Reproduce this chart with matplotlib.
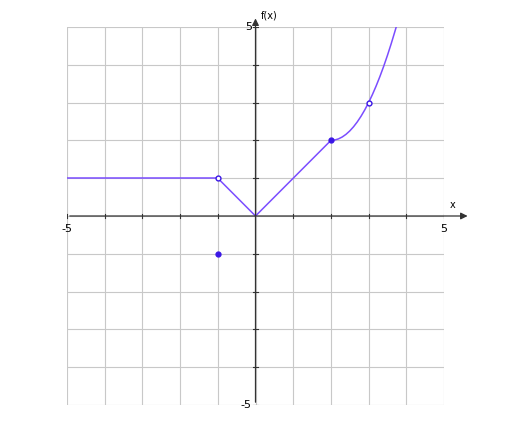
import numpy as np
import matplotlib.pyplot as plt

# piecewise function, points
flat_x = [-5, -1]
flat_y = [1, 1]
v_x = [-1, 0, 2]
v_y = [1, 0, 2]
curve_x = [2, 2.1, 2.2, 2.3, 2.4, 2.5, 2.6, 2.7, 2.8, 2.9, 3, 3.1, 3.2, 3.3, 3.4, 3.5, 3.6, 3.7, 3.75]
curve_y = [2, 2.01, 2.04, 2.09, 2.16, 2.25, 2.36, 2.49, 2.64, 2.81, 3, 3.21, 3.44, 3.69, 3.96,
           4.25, 4.56, 4.89, 5.06]
open_pts = [(-1, 1), (3, 3)]
filled_pts = [(-1, -1), (2, 2)]

line_c = '#7b4dff'
dot_c = '#3a16e6'

fig = plt.figure(figsize=(5.19, 4.21), dpi=100)
ax = fig.add_axes([67/519, 16/421, 377/519, 378/421])
ax.set_xlim(-5, 5)
ax.set_ylim(-5, 5)
ax.set_xticks(range(-5, 6))
ax.set_yticks(range(-5, 6))
ax.grid(True, color='#c8c8c8', lw=0.8)
ax.tick_params(length=0, labelbottom=False, labelleft=False)
for s in ax.spines.values():
    s.set_visible(False)
ax.set_axisbelow(True)

# axes with arrows
ax.annotate('', xy=(5.7, 0), xytext=(-5, 0), annotation_clip=False,
            arrowprops=dict(arrowstyle='-|>', color='#333333', lw=0.9, mutation_scale=10))
ax.annotate('', xy=(0, 5.3), xytext=(0, -5), annotation_clip=False,
            arrowprops=dict(arrowstyle='-|>', color='#333333', lw=0.9, mutation_scale=10))
for t in range(-5, 6):
    if t != 0:
        ax.plot([t, t], [-0.06, 0.06], color='#333333', lw=0.8)
        ax.plot([-0.06, 0.06], [t, t], color='#333333', lw=0.8)

ax.text(-5, -0.2, '-5', ha='center', va='top', fontsize=8)
ax.text(5, -0.2, '5', ha='center', va='top', fontsize=8)
ax.text(-0.1, 5, '5', ha='right', va='center', fontsize=8)
ax.text(-0.1, -5, '-5', ha='right', va='center', fontsize=8)
ax.text(5.15, 0.15, 'x', ha='left', va='bottom', fontsize=7)
ax.text(0.15, 5.3, 'f(x)', ha='left', va='center', fontsize=7, clip_on=False)

ax.plot(flat_x, flat_y, color=line_c, lw=1.1)
ax.plot(v_x, v_y, color=line_c, lw=1.1)
ax.plot(curve_x, curve_y, color=line_c, lw=1.1)
ax.set_xlim(-5, 5)
ax.set_ylim(-5, 5)

for x, y in filled_pts:
    ax.plot(x, y, 'o', color=dot_c, ms=3.5, zorder=5)
for x, y in open_pts:
    ax.plot(x, y, 'o', mfc='white', mec=dot_c, mew=1, ms=3.5, zorder=5)

fig.savefig('out.png', dpi=100)
